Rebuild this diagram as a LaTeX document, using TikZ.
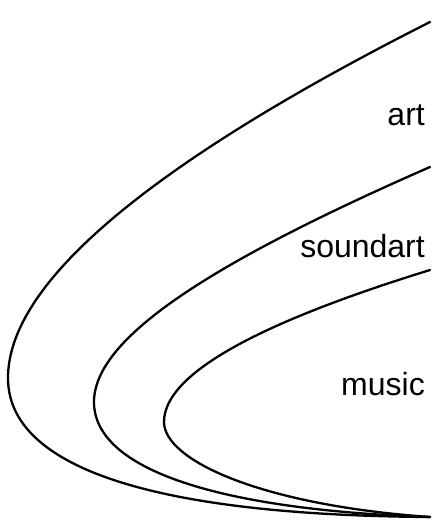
\documentclass[tikz,border=0pt]{standalone}
\usepackage{fontspec}
\setmainfont{Liberation Sans}
\begin{document}
\begin{tikzpicture}[x=1pt,y=-1pt,
  curve/.style={line width=2.3pt, line cap=round},
  lbl/.style={anchor=base east, inner sep=0pt, font=\fontsize{32}{38}\selectfont}]
\useasboundingbox (0,0) rectangle (437,523);
% outer curve (art)
\draw[curve] (430,22) .. controls (148,164.7) and (8,283.3) .. (8,378)
  .. controls (8,460) and (130,515) .. (430,517);
% middle curve (soundart)
\draw[curve] (430,167) .. controls (206,265) and (94,339.3) .. (94,402)
  .. controls (94,470) and (220,510) .. (430,517);
% inner curve (music)
\draw[curve] (430,270) .. controls (252.7,324.7) and (164,375.3) .. (164,422)
  .. controls (164,460) and (260,505) .. (430,517);
\node[lbl] (art) at (425,125) {art};
\node[lbl] (soundart) at (425,257) {soundart};
\node[lbl] (music) at (425,395) {music};
\end{tikzpicture}
\end{document}
